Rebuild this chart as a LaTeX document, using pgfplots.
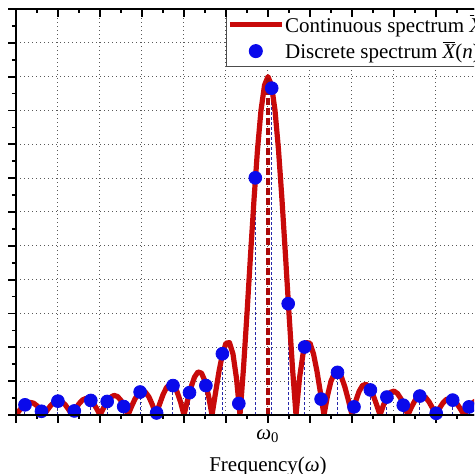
\documentclass[border=0pt]{standalone}
\usepackage{pgfplots}
\usepackage{pgfplotstable}
\pgfplotsset{compat=1.18}
\usepackage{fontspec}
\setmainfont{Liberation Serif}

\definecolor{specred}{RGB}{200,10,10}
\definecolor{dashred}{RGB}{170,10,10}
\definecolor{dotblue}{RGB}{10,10,235}
\definecolor{stemblue}{RGB}{40,40,170}

% continuous spectrum |X(w)|
\pgfplotstableread{
x y
-6.000 0
-5.917 0.137
-5.833 0.257
-5.750 0.341
-5.667 0.374
-5.583 0.351
-5.500 0.273
-5.417 0.150
-5.333 0
-5.250 0.155
-5.167 0.290
-5.083 0.386
-5.000 0.424
-4.917 0.399
-4.833 0.310
-4.750 0.171
-4.667 0
-4.583 0.177
-4.500 0.333
-4.417 0.444
-4.333 0.490
-4.250 0.461
-4.167 0.360
-4.083 0.199
-4.000 0
-3.917 0.207
-3.833 0.391
-3.750 0.523
-3.667 0.579
-3.583 0.547
-3.500 0.429
-3.417 0.238
-3.333 0
-3.250 0.250
-3.167 0.474
-3.083 0.636
-3.000 0.707
-2.917 0.672
-2.833 0.530
-2.750 0.295
-2.667 0
-2.583 0.314
-2.500 0.600
-2.417 0.811
-2.333 0.909
-2.250 0.871
-2.167 0.693
-2.083 0.390
-2.000 0
-1.917 0.424
-1.833 0.818
-1.750 1.120
-1.667 1.273
-1.583 1.238
-1.500 1.000
-1.417 0.573
-1.333 0
-1.250 0.650
-1.167 1.286
-1.083 1.810
-1.000 2.122
-0.917 2.139
-0.833 1.801
-0.750 1.083
-0.667 0
-0.583 1.392
-0.500 3.001
-0.417 4.705
-0.333 6.366
-0.250 7.842
-0.167 9.003
-0.083 9.745
0.000 10.000
0.083 9.745
0.167 9.003
0.250 7.842
0.333 6.366
0.417 4.705
0.500 3.001
0.583 1.392
0.667 0
0.750 1.083
0.833 1.801
0.917 2.139
1.000 2.122
1.083 1.810
1.167 1.286
1.250 0.650
1.333 0
1.417 0.573
1.500 1.000
1.583 1.238
1.667 1.273
1.750 1.120
1.833 0.818
1.917 0.424
2.000 0
2.083 0.390
2.167 0.693
2.250 0.871
2.333 0.909
2.417 0.811
2.500 0.600
2.583 0.314
2.667 0
2.750 0.295
2.833 0.530
2.917 0.672
3.000 0.707
3.083 0.636
3.167 0.474
3.250 0.250
3.333 0
3.417 0.238
3.500 0.429
3.583 0.547
3.667 0.579
3.750 0.523
3.833 0.391
3.917 0.207
4.000 0
4.083 0.199
4.167 0.360
4.250 0.461
4.333 0.490
4.417 0.444
4.500 0.333
4.583 0.177
4.667 0
4.750 0.171
4.833 0.310
4.917 0.399
5.000 0.424
5.083 0.386
5.167 0.290
5.250 0.155
5.333 0
5.417 0.150
5.500 0.273
5.583 0.351
5.667 0.374
5.750 0.341
5.833 0.257
5.917 0.137
6.000 0
}\curvetable

% discrete spectrum samples X(n)
\pgfplotstableread{
x y
-5.786 0.30
-5.393 0.11
-5.002 0.41
-4.612 0.12
-4.219 0.43
-3.829 0.40
-3.436 0.25
-3.045 0.68
-2.652 0.06
-2.262 0.87
-1.869 0.66
-1.479 0.87
-1.086 1.81
-0.695 0.34
-0.302 7.01
0.088 9.66
0.481 3.29
0.871 2.01
1.264 0.47
1.655 1.26
2.048 0.24
2.438 0.74
2.831 0.53
3.221 0.29
3.614 0.56
4.005 0.05
4.398 0.44
4.788 0.24
5.181 0.27
5.571 0.34
5.964 0.06
}\sampletable

\pgfplotsset{
  specaxis/.style={
    at={(8pt,29.5pt)}, anchor=south west,
    scale only axis, width=252pt, height=203pt,
    xmin=-6, xmax=6, ymin=0, ymax=12,
    xtick={-6,...,6}, ytick={0,...,12},
    minor x tick num=1, minor y tick num=1,
    major tick length=3.8pt, minor tick length=2pt,
    every tick/.style={black, line width=0.9pt},
    axis line style={line width=1pt},
    tick label style={font=\fontsize{10.5}{12}\selectfont},
    label style={font=\fontsize{10.5}{12}\selectfont},
  },
  curveimg/.style={legend image code/.code={\draw[##1] (0pt,0pt) -- (26pt,0pt);}},
  dotimg/.style={legend image code/.code={\draw[##1] plot coordinates {(13pt,0pt)};}},
}

\begin{document}
\begin{tikzpicture}
\path[use as bounding box] (0pt,0pt) rectangle (237pt,237pt);
\begin{scope}[overlay]
\clip (0pt,0pt) rectangle (237pt,237pt);
\begin{axis}[
  specaxis,
  xticklabels={,,,,,,\textit{ω}\textsubscript{0},,,,,,},
  yticklabels={},
  xtick pos=left, ytick pos=left,
  tick align=outside,
  grid=major,
  major grid style={black!65, line width=0.5pt, dash pattern=on 0.6pt off 1.4pt},
  xlabel={Frequency(\textit{ω})},
  legend cell align=left,
  legend style={
    at={(0.4167,1)}, anchor=north west,
    draw=black!70, line width=0.6pt, fill=white,
    inner xsep=0.3pt, inner ysep=1pt,
    nodes={inner xsep=0.4pt, inner ysep=1.4pt},
    font=\fontsize{10.5}{12}\selectfont,
    row sep=0pt,
  },
]
\addplot[ycomb, stemblue, line width=0.5pt, dash pattern=on 1.5pt off 1pt, forget plot]
  table {\sampletable};
\addplot[specred, line width=2.6pt, line join=round, curveimg]
  table {\curvetable};
\addlegendentry{Continuous spectrum $\overline{\hbox{\itshape X}}$(\textit{ω})}
\addplot[dashred, line width=1.9pt, dash pattern=on 3.5pt off 1.5pt, forget plot]
  coordinates {(0,0) (0,10)};
\addplot[only marks, mark=*, mark size=3.2pt, dotblue,
  mark options={draw=dotblue, fill=dotblue}, dotimg]
  table {\sampletable};
\addlegendentry{Discrete spectrum $\overline{\hbox{\itshape X}}$(\textit{n})}
\end{axis}
% inward ticks along the top edge
\begin{axis}[
  specaxis,
  xticklabels={}, ytick=\empty,
  xtick pos=right,
  tick align=inside,
]
\end{axis}
\end{scope}
\end{tikzpicture}
\end{document}
